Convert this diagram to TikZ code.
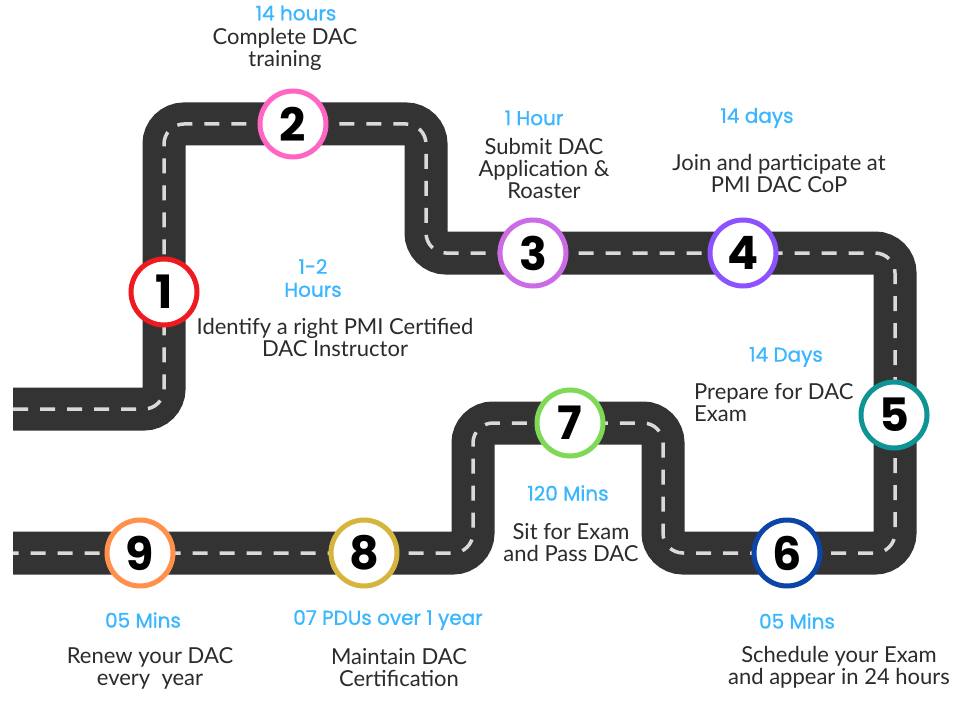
\documentclass[tikz,border=0pt]{standalone}
\usepackage{fontspec}
\setmainfont{Lato}
\newfontfamily\numfont{Poppins}
\newfontfamily\durfont{Poppins}[FakeBold=0.8]
\definecolor{roadc}{HTML}{333333}
\definecolor{lanec}{HTML}{D9D9D9}
\definecolor{bluec}{HTML}{38B6FF}
\definecolor{txtc}{HTML}{2B2B2B}
\definecolor{c1}{HTML}{EE1A1F}
\definecolor{c2}{HTML}{FF66C4}
\definecolor{c3}{HTML}{CB6CE6}
\definecolor{c4}{HTML}{8C52FF}
\definecolor{c5}{HTML}{0E9494}
\definecolor{c6}{HTML}{0C45A8}
\definecolor{c7}{HTML}{7ED957}
\definecolor{c8}{HTML}{D6B53E}
\definecolor{c9}{HTML}{FF914D}
\tikzset{
  road/.style={line width=43pt, draw=roadc, rounded corners=20pt, line cap=butt},
  lane/.style={line width=3.5pt, draw=lanec, dash pattern=on 15pt off 12pt, rounded corners=20pt},
  stopc/.style={circle, draw=#1, line width=5pt, fill=white, minimum size=66pt, inner sep=0pt,
    font=\numfont\bfseries\fontsize{46}{46}\selectfont, text=black},
  dur/.style={text=bluec, font=\durfont\fontsize{20}{23}\selectfont, align=center, inner sep=0pt},
  desc/.style={text=txtc, font=\fontsize{22}{22}\selectfont, align=center, inner sep=0pt}
}
\begin{document}
\begin{tikzpicture}[x=1pt,y=-1pt]
\useasboundingbox[fill=white] (0,0) rectangle (980,706);
% road corners
\coordinate (s) at (13,409);
\coordinate (k1) at (164,409);
\coordinate (k2) at (164,124);
\coordinate (k3) at (426,124);
\coordinate (k4) at (426,253);
\coordinate (k5) at (895,253);
\coordinate (k6) at (895,553);
\coordinate (k7) at (663,553);
\coordinate (k8) at (663,423);
\coordinate (k9) at (473,423);
\coordinate (k10) at (473,553);
\coordinate (e) at (13,553);
\draw[road] (s) -- (k1) -- (k2) -- (k3) -- (k4) -- (k5) -- (k6) -- (k7) -- (k8) -- (k9) -- (k10) -- (e);
\draw[lane] (s) -- (k1) -- (k2) -- (k3) -- (k4) -- (k5) -- (k6) -- (k7) -- (k8) -- (k9) -- (k10) -- (e);
% stops
\node[stopc=c1] (n1) at (164,292) {1};
\node[stopc=c2] (n2) at (293,124) {2};
\node[stopc=c3] (n3) at (533,253) {3};
\node[stopc=c4] (n4) at (743,253) {4};
\node[stopc=c5] (n5) at (894,415) {5};
\node[stopc=c6] (n6) at (787,553) {6};
\node[stopc=c7] (n7) at (570,423) {7};
\node[stopc=c8] (n8) at (364,553) {8};
\node[stopc=c9] (n9) at (140,553) {9};
% labels
\node[dur] (d2) at (296,13) {14 hours};
\node[desc] (t2) at (285,49) {Complete DAC\\training};
\node[dur] (d3) at (534,118) {1 Hour};
\node[desc] (t3) at (544,168) {Submit DAC\\Application \&\\Roaster};
\node[dur] (d4) at (757,118) {14 days};
\node[desc] (t4) at (779,173) {Join and participate at\\PMI DAC CoP};
\node[dur] (d1) at (313,278) {1-2\\Hours};
\node[desc] (t1) at (335,337) {Identify a right PMI Certified\\DAC Instructor};
\node[dur] (d5) at (786,357) {14 Days};
\node[desc, align=left, anchor=west] (t5) at (694,403) {Prepare for DAC\\Exam};
\node[dur] (d7) at (568,493) {120 Mins};
\node[desc] (t7) at (571,543) {Sit for Exam\\and Pass DAC};
\node[dur] (d6) at (797,621) {05 Mins};
\node[desc] (t6) at (839,667) {Schedule your Exam\\and appear in 24 hours};
\node[dur] (d9) at (143,620) {05 Mins};
\node[desc] (t9) at (150,668) {Renew your DAC\\every\ \ year};
\node[dur] (d8) at (388,620) {07 PDUs over 1 year};
\node[desc] (t8) at (399,668) {Maintain DAC\\Certification};
\end{tikzpicture}
\end{document}
